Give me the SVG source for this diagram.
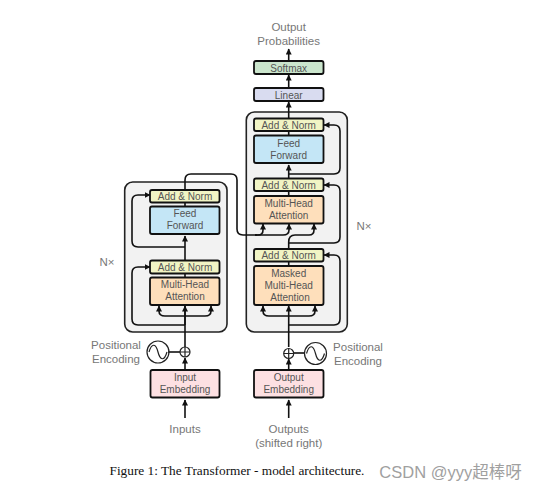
<svg xmlns="http://www.w3.org/2000/svg" width="537" height="493" viewBox="0 0 537 493">
<defs>
<marker id="ah" markerUnits="userSpaceOnUse" markerWidth="7" markerHeight="7" refX="5.5" refY="3" orient="auto"><path d="M0,0 L6,3 L0,6 Z" fill="#111"/></marker>
</defs>
<style>
text{font-family:"Liberation Sans",Arial,sans-serif;text-anchor:middle}
.b{font-size:10px;fill:#555}
.l{font-size:11.5px;fill:#777}
.outer{fill:#f2f2f2;stroke:#222;stroke-width:1.6}
.box{stroke:#111;stroke-width:1.8}
.an{fill:#f1f4c4}.ff{fill:#c4e6f6}.mh{fill:#fedfbb}.em{fill:#fde0e2}.sm{fill:#cbe6cd}.li{fill:#d9dcf0}
.c{fill:none;stroke:#111;stroke-width:1.6}
.a{marker-end:url(#ah)}
.pe{fill:none;stroke:#222;stroke-width:1.2}
</style>
<rect width="537" height="493" fill="#fff"/>
<g id="encoder-frame"><rect class="outer" x="124.7" y="182" width="102.3" height="150" rx="8"/></g>
<g id="decoder-frame"><rect class="outer" x="246.3" y="112" width="101" height="220" rx="8"/></g>
<g id="connectors">
<path class="c a" d="M185,418V400"/>
<path class="c a" d="M185,370V358"/>
<path class="c" d="M185,347V274"/>
<path class="c a" d="M185,325V306"/>
<path class="c a" d="M185,260V236"/>
<path class="c" d="M185,234V190V180Q185,174 191,174H231Q237,174 237,180V229Q237,235 243,235H257"/>
<path class="c a" d="M255,235H258Q263,235 263,230V224"/>
<path class="c a" d="M255,235H283Q289,235 289,230V224"/>
<path class="c a" d="M185,325H138Q132,325 132,319V273Q132,267 138,267H150"/>
<path class="c a" d="M185,247H138Q132,247 132,241V201Q132,195 138,195H150"/>
<path class="c a" d="M185,316H165Q159,316 159,311V306"/>
<path class="c a" d="M185,316H205Q211,316 211,311V306"/>
<path class="c a" d="M288.7,418V400"/>
<path class="c a" d="M288.7,370V359"/>
<path class="c a" d="M288.7,347V306"/>
<path class="c a" d="M288.7,325H334Q340,325 340,319V261Q340,255 334,255H324"/>
<path class="c a" d="M288.7,316H269Q263,316 263,311V306"/>
<path class="c a" d="M288.7,316H309Q315,316 315,311V306"/>
<path class="c" d="M288.7,266V262"/>
<path class="c a" d="M288.7,249V242Q288.7,235 295,235H309Q314,235 314,230V224"/>
<path class="c a" d="M288.7,243H334Q340,243 340,237V191Q340,185 334,185H324"/>
<path class="c" d="M288.7,196V191"/>
<path class="c a" d="M288.7,178V165"/>
<path class="c a" d="M288.7,174H334Q340,174 340,168V131Q340,125 334,125H324"/>
<path class="c" d="M288.7,135V131"/>
<path class="c a" d="M288.7,118V102"/>
<path class="c a" d="M288.7,88V75"/>
<path class="c a" d="M288.7,61V49"/>
<path class="c" d="M168,352H180"/>
<path class="c" d="M294,353H305"/>
</g>
<g id="enc-add-norm-2"><rect class="box an" x="150" y="190" width="69.5" height="12.5" rx="2"/><text class="b" x="185" y="199.500">Add &amp; Norm</text></g>
<g id="enc-feed-forward"><rect class="box ff" x="150" y="206.5" width="69.5" height="27.5" rx="2"/><text class="b" x="185" y="217">Feed</text><text class="b" x="185" y="229">Forward</text></g>
<g id="enc-add-norm-1"><rect class="box an" x="150" y="260.5" width="69.5" height="13" rx="2"/><text class="b" x="185" y="270.500">Add &amp; Norm</text></g>
<g id="enc-attention"><rect class="box mh" x="150" y="277.5" width="69.5" height="27.5" rx="2"/><text class="b" x="185" y="288">Multi-Head</text><text class="b" x="185" y="300">Attention</text></g>
<g id="input-embedding"><rect class="box em" x="150.500" y="370" width="69" height="27.500" rx="2"/><text class="b" x="185" y="380.500">Input</text><text class="b" x="185" y="393">Embedding</text></g>
<g id="enc-plus"><circle class="pe" cx="185" cy="352" r="5"/><path class="pe" d="M180,352H190M185,347V357"/></g>
<g id="enc-pe"><circle class="pe" cx="158" cy="352" r="11"/><path class="pe" d="M149,352C152,342 156,344 158,352C160,360 164,362 167,352"/></g>
<g id="enc-pe-label"><text class="l" x="116" y="349">Positional</text><text class="l" x="116" y="363">Encoding</text></g>
<g id="enc-nx"><text class="l" x="107" y="266">N×</text></g>
<g id="inputs"><text class="l" x="185" y="433">Inputs</text></g>
<g id="softmax"><rect class="box sm" x="254" y="61" width="69.500" height="13" rx="2"/><text class="b" x="288.700" y="71.500">Softmax</text></g>
<g id="linear"><rect class="box li" x="254" y="88" width="69.500" height="13" rx="2"/><text class="b" x="288.700" y="98.500">Linear</text></g>
<g id="dec-add-norm-3"><rect class="box an" x="254" y="118.500" width="69.500" height="12.500" rx="2"/><text class="b" x="288.700" y="128.500">Add &amp; Norm</text></g>
<g id="dec-feed-forward"><rect class="box ff" x="254" y="135.500" width="69.500" height="27.500" rx="2"/><text class="b" x="288.700" y="146.500">Feed</text><text class="b" x="288.700" y="158.500">Forward</text></g>
<g id="dec-add-norm-2"><rect class="box an" x="254" y="178.500" width="69.500" height="12.500" rx="2"/><text class="b" x="288.700" y="188.500">Add &amp; Norm</text></g>
<g id="dec-attention"><rect class="box mh" x="254" y="196" width="69.500" height="27.500" rx="2"/><text class="b" x="288.700" y="206.500">Multi-Head</text><text class="b" x="288.700" y="219">Attention</text></g>
<g id="dec-add-norm-1"><rect class="box an" x="254" y="249" width="69.500" height="12.500" rx="2"/><text class="b" x="288.700" y="259">Add &amp; Norm</text></g>
<g id="dec-masked"><rect class="box mh" x="254" y="266" width="69.500" height="39" rx="2"/><text class="b" x="288.700" y="276.500">Masked</text><text class="b" x="288.700" y="288.500">Multi-Head</text><text class="b" x="290" y="300.500">Attention</text></g>
<g id="output-embedding"><rect class="box em" x="254" y="370" width="69.500" height="27.500" rx="2"/><text class="b" x="288.700" y="380.500">Output</text><text class="b" x="288.700" y="393">Embedding</text></g>
<g id="dec-plus"><circle class="pe" cx="288.700" cy="353.500" r="5"/><path class="pe" d="M283.700,353.500H293.700M288.700,348.500V358.500"/></g>
<g id="dec-pe"><circle class="pe" cx="315.500" cy="353.500" r="11"/><path class="pe" d="M306.500,353.500C309.500,343.500 313.500,345.500 315.500,353.500C317.500,361.500 321.500,363.500 324.500,353.500"/></g>
<g id="dec-pe-label"><text class="l" x="358" y="351">Positional</text><text class="l" x="358" y="365">Encoding</text></g>
<g id="dec-nx"><text class="l" x="364" y="230">N×</text></g>
<g id="outputs"><text class="l" x="288.700" y="433">Outputs</text><text class="l" x="288.700" y="447">(shifted right)</text></g>
<g id="output-probs"><text class="l" x="288.700" y="31">Output</text><text class="l" x="288.700" y="45">Probabilities</text></g>
<text x="237" y="474.500" style="font-family:'Liberation Serif',serif;font-size:13.300px;fill:#111">Figure 1: The Transformer - model architecture.</text>
<text x="450.500" y="478" style="font-family:'Liberation Sans','Noto Sans CJK SC',sans-serif;font-size:16.500px;fill:#a0a0a0">CSDN @yyy超棒呀</text>
</svg>
